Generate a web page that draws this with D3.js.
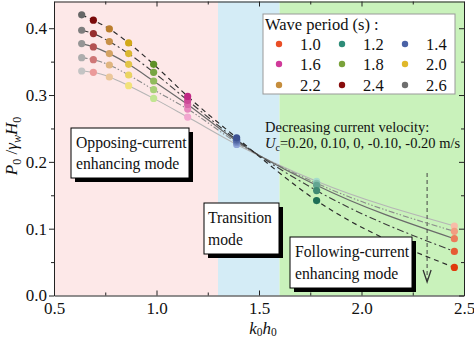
<!DOCTYPE html>
<html>
<head>
<meta charset="utf-8">
<script src="https://cdn.jsdelivr.net/npm/d3@7"></script>
<style>
  html, body { margin: 0; padding: 0; background: #fff; }
</style>
</head>
<body>
<svg id="chart" width="474" height="339"></svg>
<script>
// Wave periods (s) and their dimensionless depth k0h0
const periods = ["1.0", "1.2", "1.4", "1.6", "1.8", "2.0", "2.2", "2.4", "2.6"];
const k0h0 = [2.453, 1.781, 1.391, 1.152, 0.986, 0.864, 0.770, 0.692, 0.635];

// Current velocities Uc (m/s), from fastest following to fastest opposing
const currents = ["0.20", "0.10", "0", "-0.10", "-0.20"];

// P0/(γw H0) for each current, ordered like `periods`
const pU020 = [0.104, 0.171, 0.226, 0.267, 0.295, 0.314, 0.327, 0.334, 0.336];
const pU010 = [0.096, 0.168, 0.229, 0.279, 0.308, 0.330, 0.345, 0.353, 0.356];
const pU000 = [0.085, 0.165, 0.231, 0.286, 0.321, 0.346, 0.362, 0.372, 0.377];
const pUm010 = [0.066, 0.157, 0.233, 0.292, 0.334, 0.362, 0.380, 0.392, 0.397];
const pUm020 = [0.042, 0.142, 0.236, 0.298, 0.346, 0.378, 0.399, 0.412, 0.420];
const seriesValues = [pU020, pU010, pU000, pUm010, pUm020];

// Axis ticks
const xTicks = [0.5, 1.0, 1.5, 2.0, 2.5];
const yTicks = [0.0, 0.1, 0.2, 0.3, 0.4];

// Regime bands along k0h0
const bands = [
  { from: 0.5, to: 1.3, fill: "#fde8e8" },
  { from: 1.3, to: 1.6, fill: "#d4ecf6" },
  { from: 1.6, to: 2.5, fill: "#c9f2bb" }
];

// Colour per wave period: legend colour, light shade, dark shade
const legendColor = ["#ea4e26", "#2e8c78", "#4a62a6", "#d03a9a", "#7aa23a", "#e0b82a", "#c58d3c", "#880c0c", "#6e6e6e"];
const lightColor  = ["#f8bca8", "#a6dccb", "#8fa4d8", "#f2a6cf", "#c2e592", "#f2e27a", "#ecc79a", "#eb9a9a", "#c4c4c4"];
const darkColor   = ["#e03a0c", "#1d6e56", "#3d5292", "#c02884", "#5f9028", "#d2a818", "#bb7e2c", "#7a0a0a", "#666666"];

// Line style per current
const lineStyle = [
  { stroke: "#b5b5b5", dash: null,        width: 1.1 },
  { stroke: "#8a8a8a", dash: "6,2,1.5,2,1.5,2", width: 1.1 },
  { stroke: "#6a6a6a", dash: null,        width: 1.2 },
  { stroke: "#3c3c3c", dash: "7,3,2,3",   width: 1.1 },
  { stroke: "#2a2a2a", dash: "5,4",       width: 1.2 }
];

const FONT = "'Liberation Serif', 'Times New Roman', Times, serif";

const svg = d3.select("#chart").attr("font-family", FONT).style("font-family", FONT);
const M = { left: 54, right: 464, top: 1.5, bottom: 295.5 };

const x = d3.scaleLinear().domain([0.5, 2.5]).range([M.left, M.right]);
const y = d3.scaleLinear().domain([0, 0.44]).range([M.bottom, M.top]);

// Background bands
svg.append("g").selectAll("rect").data(bands).join("rect")
  .attr("x", d => x(d.from)).attr("width", d => x(d.to) - x(d.from))
  .attr("y", M.top).attr("height", M.bottom - M.top)
  .attr("fill", d => d.fill);

// Axes
const fontSize = 17;
const minorX = d3.range(0.5, 2.5001, 0.25);
const minorY = d3.range(0, 0.4401, 0.05);
const isMajor = (list, d) => list.some(t => Math.abs(t - d) < 1e-9);

function styleAxis(g) {
  g.attr("font-family", FONT);
  g.select(".domain").attr("stroke", "#222").attr("stroke-width", 1);
  g.selectAll(".tick line").attr("stroke", "#222");
  g.selectAll("text").attr("font-size", fontSize).attr("fill", "#111").style("font-family", FONT);
}

// bottom: inward ticks with labels
svg.append("g").attr("transform", `translate(0,${M.bottom})`)
  .call(d3.axisBottom(x).tickValues(minorX).tickSizeInner(-4).tickSizeOuter(0)
    .tickFormat(d => isMajor(xTicks, d) ? d3.format(".1f")(d) : ""))
  .call(styleAxis)
  .call(g => g.selectAll(".tick text").attr("dy", "0.95em").attr("y", 2))
  .call(g => g.selectAll(".tick line").attr("y2", d => isMajor(xTicks, d) ? -5 : -3));

// top: inward ticks, no labels
svg.append("g").attr("transform", `translate(0,${M.top})`)
  .call(d3.axisTop(x).tickValues(minorX).tickSize(-4).tickSizeOuter(0).tickFormat(""))
  .call(styleAxis)
  .call(g => g.selectAll(".tick line").attr("y2", d => isMajor(xTicks, d) ? 5 : 3));

// left: outward ticks with labels
svg.append("g").attr("transform", `translate(${M.left},0)`)
  .call(d3.axisLeft(y).tickValues(minorY).tickSizeInner(5).tickSizeOuter(0)
    .tickFormat(d => isMajor(yTicks, d) ? d3.format(".1f")(d) : ""))
  .call(styleAxis)
  .call(g => g.selectAll(".tick line").attr("x2", d => isMajor(yTicks, d) ? -5 : -3))
  .call(g => g.selectAll(".tick text").attr("x", -7));

// right: inward ticks
svg.append("g").attr("transform", `translate(${M.right},0)`)
  .call(d3.axisRight(y).tickValues(minorY).tickSize(-4).tickSizeOuter(0).tickFormat(""))
  .call(styleAxis)
  .call(g => g.selectAll(".tick line").attr("x2", d => isMajor(yTicks, d) ? -5 : -3));

// Curves, one per current
const line = d3.line().x(d => x(d.k)).y(d => y(d.v)).curve(d3.curveMonotoneX);
seriesValues.forEach((vals, si) => {
  const pts = vals.map((v, i) => ({ k: k0h0[i], v })).sort((a, b) => a.k - b.k);
  svg.append("path").datum(pts)
    .attr("d", line)
    .attr("fill", "none")
    .attr("stroke", lineStyle[si].stroke)
    .attr("stroke-width", lineStyle[si].width)
    .attr("stroke-dasharray", lineStyle[si].dash);
});

// Points: shade goes from light (Uc = 0.20) to dark (Uc = -0.20)
const pointData = [];
seriesValues.forEach((vals, si) => {
  vals.forEach((v, pi) => {
    const t = si / (seriesValues.length - 1);
    pointData.push({ k: k0h0[pi], v, color: d3.interpolateRgb(lightColor[pi], darkColor[pi])(t) });
  });
});
svg.append("g").selectAll("circle").data(pointData).join("circle")
  .attr("cx", d => x(d.k)).attr("cy", d => y(d.v)).attr("r", 3.6)
  .attr("fill", d => d.color);

function txt(parent, xPos, yPos, size) {
  return parent.append("text").attr("x", xPos).attr("y", yPos).attr("font-size", size)
    .attr("fill", "#111").style("font-family", FONT);
}

// Boxed annotations with drop shadow
const boxFont = 15.7;
function noteBox(x0, y0, w, h, lines, tx, baselines) {
  const g = svg.append("g");
  g.append("rect").attr("x", x0 + 4).attr("y", y0 + 4).attr("width", w).attr("height", h).attr("fill", "#000");
  g.append("rect").attr("x", x0).attr("y", y0).attr("width", w).attr("height", h)
    .attr("fill", "#fff").attr("stroke", "#000").attr("stroke-width", 1);
  lines.forEach((s, i) => txt(g, tx, baselines[i], boxFont).text(s));
}
noteBox(71, 128, 118, 50, ["Opposing-current", "enhancing mode"], 76, [148, 169]);
noteBox(204, 203, 75, 51, ["Transition", "mode"], 208, [223, 245]);
noteBox(290, 237, 122, 51, ["Following-current", "enhancing mode"], 295, [257, 279]);

// Current velocity note
const noteFont = 14.5;
txt(svg, 265, 132, noteFont).text("Decreasing current velocity:");
const uc = txt(svg, 265, 148, noteFont);
uc.append("tspan").attr("font-style", "italic").text("U");
uc.append("tspan").attr("font-size", 10).attr("dy", 3).text("c");
uc.append("tspan").attr("dy", -3).text("=" + currents.join(", ") + " m/s");

// Downward arrow for decreasing Uc
const arrowX = x(2.32);
svg.append("line").attr("x1", arrowX).attr("x2", arrowX).attr("y1", 173).attr("y2", 281)
  .attr("stroke", "#444").attr("stroke-width", 1).attr("stroke-dasharray", "4,3");
svg.append("path").attr("d", `M${arrowX - 4},${270} L${arrowX},${282} L${arrowX + 4},${270}`)
  .attr("fill", "none").attr("stroke", "#333").attr("stroke-width", 1.3);

// Legend
const lg = svg.append("g");
lg.append("rect").attr("x", 263).attr("y", 14).attr("width", 192).attr("height", 80)
  .attr("fill", "#fff").attr("stroke", "#999").attr("stroke-width", 1);
txt(lg, 265, 30, 16.5).text("Wave period (s) :");
const colX = [279, 342, 405];
const rowY = [44, 64, 85];
periods.forEach((p, i) => {
  const cx = colX[i % 3], cy = rowY[Math.floor(i / 3)];
  lg.append("circle").attr("cx", cx).attr("cy", cy).attr("r", 3.2).attr("fill", legendColor[i]);
  txt(lg, cx + 21, cy + 6, 16.5).text(p);
});

// Axis titles
const xl = txt(svg, 263, 334, fontSize).attr("text-anchor", "middle");
xl.append("tspan").attr("font-style", "italic").text("k");
xl.append("tspan").attr("font-size", 11.5).attr("dy", 2).text("0");
xl.append("tspan").attr("font-style", "italic").attr("dy", -2).text("h");
xl.append("tspan").attr("font-size", 11.5).attr("dy", 2).text("0");

const yl = txt(svg, 0, 0, fontSize).attr("transform", "translate(17,146) rotate(-90)").attr("text-anchor", "middle");
yl.append("tspan").attr("font-style", "italic").text("P");
yl.append("tspan").attr("font-size", 12).attr("dy", 4).text("0");
yl.append("tspan").attr("dy", -4).text(" /");
yl.append("tspan").attr("font-style", "italic").text("γ");
yl.append("tspan").attr("font-style", "italic").attr("font-size", 12).attr("dy", 4).text("w");
yl.append("tspan").attr("font-style", "italic").attr("dy", -4).text("H");
yl.append("tspan").attr("font-size", 12).attr("dy", 4).text("0");
</script>
</body>
</html>
